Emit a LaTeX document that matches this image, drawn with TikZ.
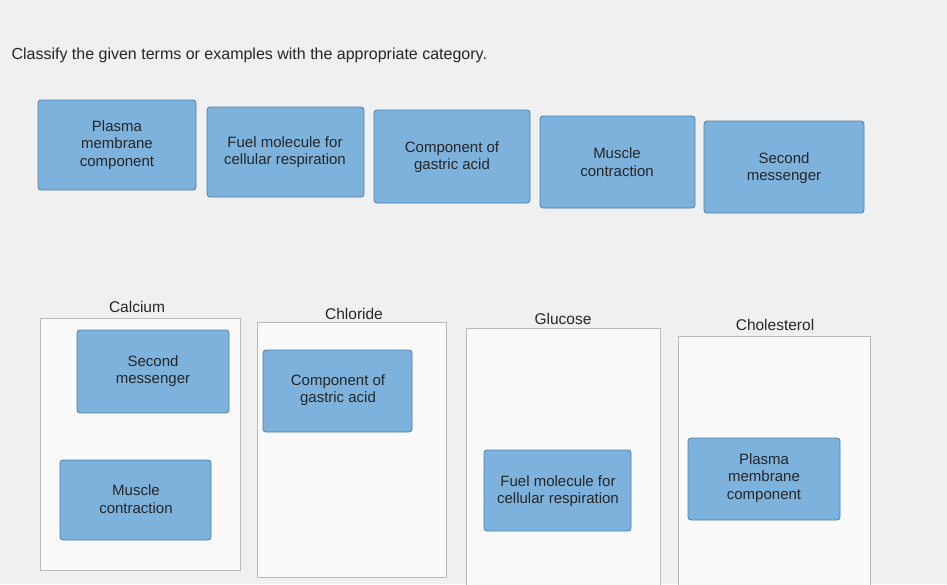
\documentclass[tikz,border=0pt]{standalone}
\usepackage{fontspec}
\setmainfont{Liberation Sans}
\begin{document}
\begin{tikzpicture}[x=1pt,y=-1pt,
  card/.style={draw=cardedge, fill=cardblue, rounded corners=3pt, line width=0.8pt},
  bin/.style={draw=gray!55, fill=white!96!gray, line width=0.8pt},
  lab/.style={font=\fontsize{15.5}{17}\selectfont, text=black!85},
  ct/.style={align=center, font=\fontsize{15}{17.5}\selectfont, text=black!85}]
\definecolor{cardblue}{HTML}{7DB2DD}
\definecolor{cardedge}{HTML}{4F7FA6}
\useasboundingbox (0,0) rectangle (947,584);
\fill[gray!12] (0,0) rectangle (947,584);
\node[anchor=west, font=\fontsize{16}{18}\selectfont, text=black!85] (title) at (8,55) {Classify the given terms or examples with the appropriate category.};
% top cards
\path[card] (38,100) rectangle (196,190); \node[ct] (t1) at (117,145) {Plasma\\membrane\\component};
\path[card] (207,107) rectangle (364,197); \node[ct] (t2) at (285,152) {Fuel molecule for\\cellular respiration};
\path[card] (374,110) rectangle (530,203); \node[ct] (t3) at (452,157) {Component of\\gastric acid};
\path[card] (540,116) rectangle (695,208); \node[ct] (t4) at (617,162) {Muscle\\contraction};
\path[card] (704,121) rectangle (864,213); \node[ct] (t5) at (784,168) {Second\\messenger};
% bins
\node[lab] (c1) at (137,307) {Calcium};
\node[lab] (c2) at (354,314) {Chloride};
\node[lab] (c3) at (563,319) {Glucose};
\node[lab] (c4) at (775,325) {Cholesterol};
\path[bin] (40,318) rectangle (240,570);
\path[bin] (257,322) rectangle (446,577);
\path[bin] (466,328) rectangle (660,590);
\path[bin] (678,336) rectangle (870,590);
% placed cards
\path[card] (77,330) rectangle (229,413); \node[ct] (p1) at (153,371) {Second\\messenger};
\path[card] (60,460) rectangle (211,540); \node[ct] (p2) at (136,499) {Muscle\\contraction};
\path[card] (263,350) rectangle (412,432); \node[ct] (p3) at (338,390) {Component of\\gastric acid};
\path[card] (484,450) rectangle (631,531); \node[ct] (p4) at (558,491) {Fuel molecule for\\cellular respiration};
\path[card] (688,438) rectangle (840,520); \node[ct] (p5) at (764,478) {Plasma\\membrane\\component};
\end{tikzpicture}
\end{document}
